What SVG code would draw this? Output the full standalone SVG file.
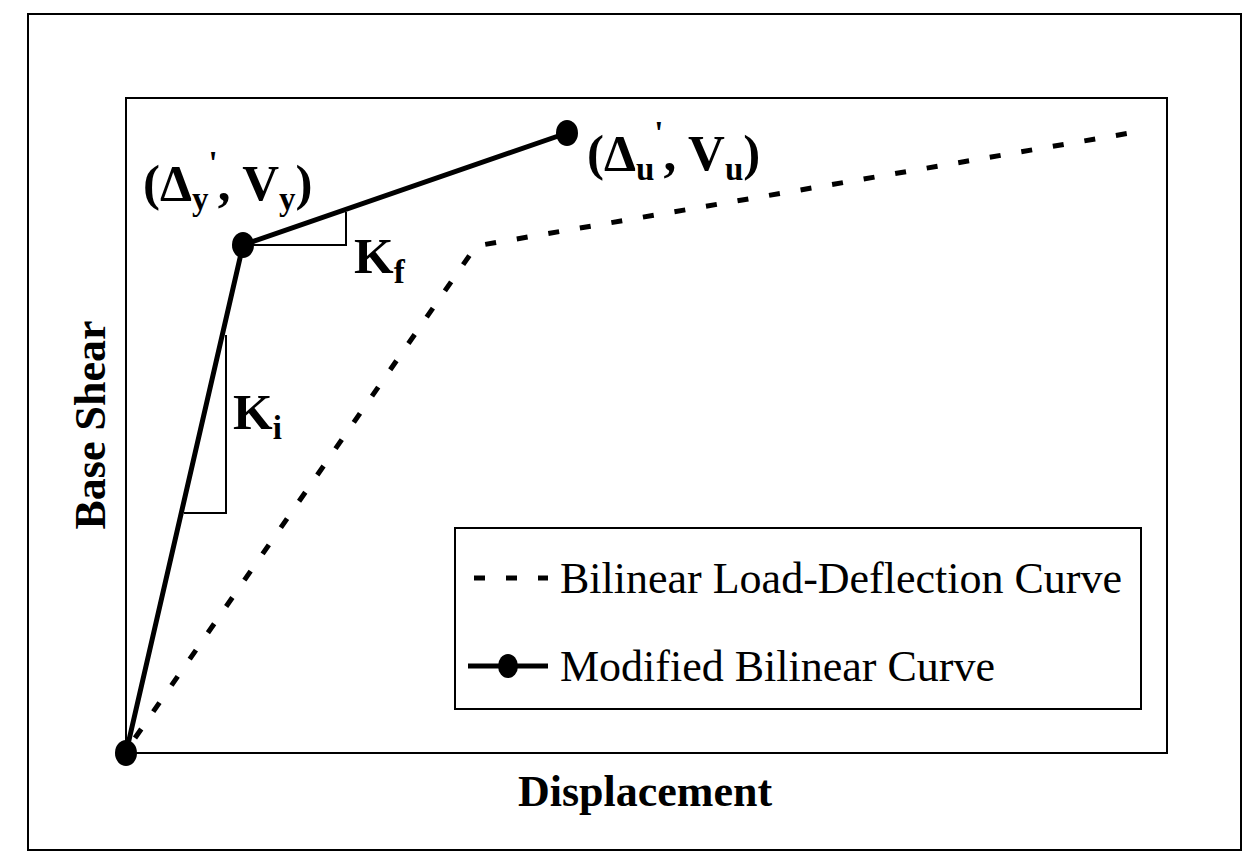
<svg xmlns="http://www.w3.org/2000/svg" width="1255" height="852" viewBox="0 0 1255 852">
<style>
.b{font-family:"Liberation Serif",serif;font-weight:bold;font-size:51px}
.a{font-family:"Liberation Serif",serif;font-weight:bold;font-size:44px}
.r{font-family:"Liberation Serif",serif;font-size:44px}
.s{font-size:33px}
.thin{fill:none;stroke:#000;stroke-width:2}
.solid{fill:none;stroke:#000;stroke-width:5}
.dash{fill:none;stroke:#000;stroke-width:5;stroke-dasharray:11,21}
</style>
<rect width="1255" height="852" fill="#fff"/>
<rect x="28" y="14" width="1213" height="836" class="thin" stroke-width="1.5"/>
<rect x="126" y="98" width="1041" height="655" class="thin" stroke-width="1.5"/>
<g id="connectors">
<polyline class="dash" points="135,738 476,246 1130,133"/>
<polyline class="solid" points="126,753 243,245 567,133"/>
<polyline class="thin" points="243,245 346,245 346,212"/>
<polyline class="thin" points="226,335 226,513 184,513"/>
</g>
<g id="points">
<ellipse cx="126" cy="753" rx="11" ry="13"/>
<ellipse cx="243" cy="245" rx="11" ry="13"/>
<ellipse cx="567" cy="133" rx="11" ry="13"/>
</g>
<g id="labels">
<text class="b" x="143" y="200">(Δ<tspan class="s" dy="10">y</tspan><tspan class="s" dy="-36">'</tspan><tspan dy="26">, V</tspan><tspan class="s" dy="10">y</tspan><tspan dy="-10">)</tspan></text>
<text class="b" x="587" y="170">(Δ<tspan class="s" dy="10">u</tspan><tspan class="s" dy="-36">'</tspan><tspan dy="26">, V</tspan><tspan class="s" dy="10">u</tspan><tspan dy="-10">)</tspan></text>
<text class="b" x="354" y="273">K<tspan class="s" dy="10">f</tspan></text>
<text class="b" x="233" y="429">K<tspan class="s" dy="10">i</tspan></text>
<text class="a" x="645" y="806" text-anchor="middle">Displacement</text>
<text class="a" transform="translate(105,425) rotate(-90)" text-anchor="middle">Base Shear</text>
</g>
<g id="legend">
<rect x="455" y="528" width="686" height="181" class="thin" stroke-width="1.5"/>
<line x1="474" y1="578" x2="548" y2="578" class="dash" stroke-dasharray="9,23"/>
<text class="r" x="560" y="593">Bilinear Load-Deflection Curve</text>
<line x1="468" y1="666" x2="548" y2="666" class="solid"/>
<ellipse cx="508" cy="666" rx="10" ry="12"/>
<text class="r" x="560" y="681">Modified Bilinear Curve</text>
</g>
</svg>
